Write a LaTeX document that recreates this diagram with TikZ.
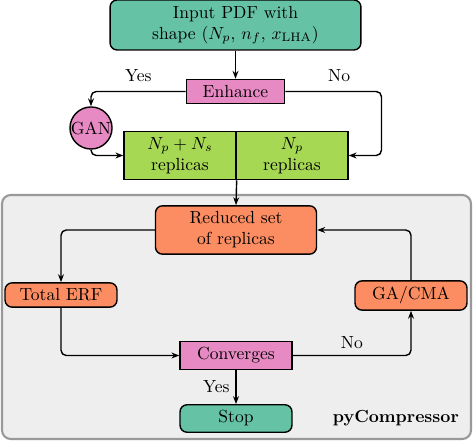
\documentclass[tikz,border=0pt]{standalone}
\usepackage{amsmath}
\usepackage{tikz}
\usetikzlibrary{arrows.meta}

\definecolor{inputgreen}{HTML}{66C2A5}
\definecolor{decpink}{HTML}{E78AC3}
\definecolor{replgreen}{HTML}{A6D854}
\definecolor{redorange}{HTML}{FC8D62}
\definecolor{panelgray}{HTML}{EEEEEE}
\definecolor{panelline}{HTML}{999999}

\begin{document}
\begin{tikzpicture}[x=0.57pt, y=0.57pt,
    inbox/.style={draw, thick, fill=inputgreen, rounded corners=4pt, align=center},
    decbox/.style={draw, thick, fill=decpink, minimum width=56pt},
    replbox/.style={draw, thick, fill=replgreen, align=center, minimum width=63.8pt, minimum height=26.8pt},
    redbox/.style={draw, thick, fill=redorange, rounded corners=4pt, align=center},
    flow/.style={thick, -{Stealth[length=4.5pt]}, rounded corners=3pt}]
      \useasboundingbox (0, 0) rectangle (474, 441);

      % Background panel of the compressor
      \draw[panelline, line width=1.2pt, fill=panelgray, rounded corners=5pt] (2, 2) rectangle (471, 246);

      % Top part: input and enhancement
      \node[inbox, minimum width=143pt, minimum height=27.5pt] (input) at (235.5, 416) {Input PDF with\\ shape $(N_p,\, n_f,\, x_{\text{LHA}})$};
      \node[decbox] (enhance) at (235.5, 349.5) {Enhance};
      \node[draw, thick, circle, fill=decpink, inner sep=0pt, minimum size=22.8pt] (gan) at (91, 313) {GAN};
      \node[replbox] (left) at (180, 285.5) {$N_p + N_s$\\ replicas};
      \node[replbox] (right) at (292, 285.5) {$N_p$\\ replicas};
      \coordinate (noturn) at (381.5, 285.5);

      % Compressor nodes
      \node[redbox, minimum width=91.8pt, minimum height=27.4pt] (reduced) at (236, 211) {Reduced set\\ of replicas};
      \node[redbox, minimum width=63.8pt] (erf) at (61, 146) {Total ERF};
      \node[redbox, minimum width=63.8pt] (ga) at (411, 145.5) {GA/CMA};
      \node[decbox, minimum width=63.8pt] (conv) at (236, 85.5) {Converges};
      \node[inbox, minimum width=63.8pt, minimum height=13pt] (stop) at (236, 22.5) {Stop};
      \node[anchor=east] (pycomp) at (465, 22.5) {\textbf{pyCompressor}};

      % Connectors
      \draw[flow] (input) -- (enhance);
      \draw[flow] (enhance.west) -| node[pos=0.25, above=2pt] {Yes} (gan.north);
      \draw[flow] (gan.south) |- (left.west);
      \draw[flow] (enhance.east) -| node[pos=0.28, above=2pt] {No} (noturn) -- (right.east);
      \draw[flow] (left.south east) -- (reduced.north);
      \draw[flow] (reduced.west) -| (erf.north);
      \draw[flow] (erf.south) |- (conv.west);
      \draw[flow] (conv.east) -| node[pos=0.25, above] {No} (ga.south);
      \draw[flow] (ga.north) |- (reduced.east);
      \draw[flow] (conv.south) -- node[left] {Yes} (stop.north);

  \end{tikzpicture}
\end{document}
